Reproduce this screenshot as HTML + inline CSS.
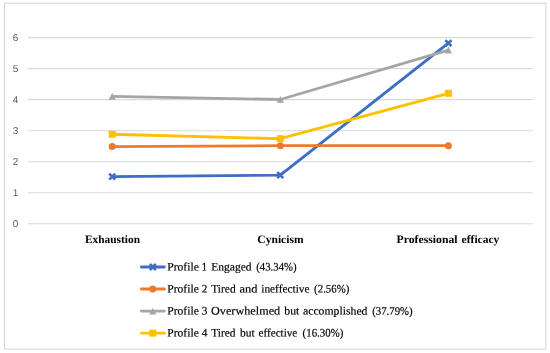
<!DOCTYPE html>
<html><head><meta charset="utf-8"><title>Chart</title>
<style>
html,body{margin:0;padding:0;background:#fff;}
svg{display:block;}
.ax{font-family:"Liberation Sans","DejaVu Sans",sans-serif;font-size:10px;fill:#595959;}
.cat{font-family:"Liberation Serif","DejaVu Serif",serif;font-weight:bold;font-size:11.3px;fill:#000;}
.leg{font-family:"Liberation Serif","DejaVu Serif",serif;font-size:11.5px;fill:#000;stroke:#000;stroke-width:0.18px;}
</style></head><body>
<svg width="550" height="353" viewBox="0 0 550 353">
<rect x="0" y="0" width="550" height="353" fill="#fff"/>
<rect x="4.55" y="3.15" width="541.25" height="346" fill="#fff" stroke="#D6D6D6" stroke-width="1.05"/>

<line x1="28" x2="532.8" y1="223.75" y2="223.75" stroke="#D9D9D9" stroke-width="1.1"/>
<text class="ax" transform="translate(15.45,227.05) rotate(0.05)" text-anchor="middle">0</text>
<line x1="28" x2="532.8" y1="192.73" y2="192.73" stroke="#D9D9D9" stroke-width="1.1"/>
<text class="ax" transform="translate(15.45,196.03) rotate(0.05)" text-anchor="middle">1</text>
<line x1="28" x2="532.8" y1="161.71" y2="161.71" stroke="#D9D9D9" stroke-width="1.1"/>
<text class="ax" transform="translate(15.45,165.01) rotate(0.05)" text-anchor="middle">2</text>
<line x1="28" x2="532.8" y1="130.69" y2="130.69" stroke="#D9D9D9" stroke-width="1.1"/>
<text class="ax" transform="translate(15.45,133.99) rotate(0.05)" text-anchor="middle">3</text>
<line x1="28" x2="532.8" y1="99.67" y2="99.67" stroke="#D9D9D9" stroke-width="1.1"/>
<text class="ax" transform="translate(15.45,102.97) rotate(0.05)" text-anchor="middle">4</text>
<line x1="28" x2="532.8" y1="68.65" y2="68.65" stroke="#D9D9D9" stroke-width="1.1"/>
<text class="ax" transform="translate(15.45,71.95) rotate(0.05)" text-anchor="middle">5</text>
<line x1="28" x2="532.8" y1="37.63" y2="37.63" stroke="#D9D9D9" stroke-width="1.1"/>
<text class="ax" transform="translate(15.45,40.93) rotate(0.05)" text-anchor="middle">6</text>
<polyline points="112.20,176.69 280.30,175.20 448.40,43.08" fill="none" stroke="#3D6DC6" stroke-width="2.85" stroke-linejoin="round" stroke-linecap="round"/>
<path d="M109.20 173.69L115.20 179.69M115.20 173.69L109.20 179.69" stroke="#3D6DC6" stroke-width="2.6" fill="none" stroke-linecap="butt"/>
<path d="M277.30 172.20L283.30 178.20M283.30 172.20L277.30 178.20" stroke="#3D6DC6" stroke-width="2.6" fill="none" stroke-linecap="butt"/>
<path d="M445.40 40.08L451.40 46.08M451.40 40.08L445.40 46.08" stroke="#3D6DC6" stroke-width="2.6" fill="none" stroke-linecap="butt"/>
<polyline points="112.20,146.62 280.30,145.69 448.40,145.69" fill="none" stroke="#ED7A2C" stroke-width="2.85" stroke-linejoin="round" stroke-linecap="round"/>
<circle cx="112.20" cy="146.62" r="3.5" fill="#ED7A2C"/>
<circle cx="280.30" cy="145.69" r="3.5" fill="#ED7A2C"/>
<circle cx="448.40" cy="145.69" r="3.5" fill="#ED7A2C"/>
<polyline points="112.20,96.40 280.30,99.50 448.40,50.21" fill="none" stroke="#A5A5A5" stroke-width="2.85" stroke-linejoin="round" stroke-linecap="round"/>
<polygon points="112.20,93.00 115.80,99.70 108.60,99.70" fill="#A5A5A5"/>
<polygon points="280.30,96.10 283.90,102.80 276.70,102.80" fill="#A5A5A5"/>
<polygon points="448.40,46.81 452.00,53.51 444.80,53.51" fill="#A5A5A5"/>
<polyline points="112.20,134.22 280.30,138.72 448.40,93.30" fill="none" stroke="#FFC000" stroke-width="2.85" stroke-linejoin="round" stroke-linecap="round"/>
<rect x="108.70" y="130.72" width="7" height="7" fill="#FFC000"/>
<rect x="276.80" y="135.22" width="7" height="7" fill="#FFC000"/>
<rect x="444.90" y="89.80" width="7" height="7" fill="#FFC000"/>
<text class="cat" transform="translate(84.9,243.00) rotate(0.04)"><tspan x="0.0" textLength="55.1" lengthAdjust="spacingAndGlyphs">Exhaustion</tspan></text>
<text class="cat" transform="translate(257.3,243.00) rotate(0.04)"><tspan x="0.0" textLength="46.3" lengthAdjust="spacingAndGlyphs">Cynicism</tspan></text>
<text class="cat" transform="translate(396.5,243.00) rotate(0.04)"><tspan x="0.0" textLength="61.1" lengthAdjust="spacingAndGlyphs">Professional</tspan> <tspan x="65.1" textLength="37.8" lengthAdjust="spacingAndGlyphs">efficacy</tspan></text>
<line x1="141.4" x2="164.4" y1="267.0" y2="267.0" stroke="#3D6DC6" stroke-width="2.8" stroke-linecap="round"/>
<path d="M149.80 264.00L155.80 270.00M155.80 264.00L149.80 270.00" stroke="#3D6DC6" stroke-width="2.6" fill="none" stroke-linecap="butt"/>
<text class="leg" transform="translate(167.2,270.40) rotate(0.04)"><tspan x="0.0" textLength="31.6" lengthAdjust="spacingAndGlyphs">Profile</tspan> <tspan x="34.4" textLength="5.7" lengthAdjust="spacingAndGlyphs">1</tspan> <tspan x="44.1" textLength="40.3" lengthAdjust="spacingAndGlyphs">Engaged</tspan> <tspan x="89.0" textLength="40.4" lengthAdjust="spacingAndGlyphs">(43.34%)</tspan></text>
<line x1="141.4" x2="164.4" y1="289.0" y2="289.0" stroke="#ED7A2C" stroke-width="2.8" stroke-linecap="round"/>
<circle cx="152.80" cy="289.00" r="3.5" fill="#ED7A2C"/>
<text class="leg" transform="translate(167.2,292.40) rotate(0.04)"><tspan x="0.0" textLength="31.6" lengthAdjust="spacingAndGlyphs">Profile</tspan> <tspan x="34.5" textLength="5.7" lengthAdjust="spacingAndGlyphs">2</tspan> <tspan x="44.1" textLength="24.3" lengthAdjust="spacingAndGlyphs">Tired</tspan> <tspan x="72.3" textLength="17.9" lengthAdjust="spacingAndGlyphs">and</tspan> <tspan x="94.1" textLength="48.2" lengthAdjust="spacingAndGlyphs">ineffective</tspan> <tspan x="146.9" textLength="35.3" lengthAdjust="spacingAndGlyphs">(2.56%)</tspan></text>
<line x1="141.4" x2="164.4" y1="311.1" y2="311.1" stroke="#A5A5A5" stroke-width="2.8" stroke-linecap="round"/>
<polygon points="152.80,307.70 156.40,314.40 149.20,314.40" fill="#A5A5A5"/>
<text class="leg" transform="translate(167.2,314.50) rotate(0.04)"><tspan x="0.0" textLength="31.6" lengthAdjust="spacingAndGlyphs">Profile</tspan> <tspan x="34.5" textLength="5.7" lengthAdjust="spacingAndGlyphs">3</tspan> <tspan x="43.8" textLength="69.2" lengthAdjust="spacingAndGlyphs">Overwhelmed</tspan> <tspan x="117.1" textLength="15.1" lengthAdjust="spacingAndGlyphs">but</tspan> <tspan x="135.8" textLength="64.5" lengthAdjust="spacingAndGlyphs">accomplished</tspan> <tspan x="205.0" textLength="40.5" lengthAdjust="spacingAndGlyphs">(37.79%)</tspan></text>
<line x1="141.4" x2="164.4" y1="333.1" y2="333.1" stroke="#FFC000" stroke-width="2.8" stroke-linecap="round"/>
<rect x="149.30" y="329.60" width="7" height="7" fill="#FFC000"/>
<text class="leg" transform="translate(167.2,336.50) rotate(0.04)"><tspan x="0.0" textLength="31.6" lengthAdjust="spacingAndGlyphs">Profile</tspan> <tspan x="34.5" textLength="5.7" lengthAdjust="spacingAndGlyphs">4</tspan> <tspan x="44.1" textLength="24.2" lengthAdjust="spacingAndGlyphs">Tired</tspan> <tspan x="72.8" textLength="14.7" lengthAdjust="spacingAndGlyphs">but</tspan> <tspan x="91.4" textLength="38.6" lengthAdjust="spacingAndGlyphs">effective</tspan> <tspan x="135.4" textLength="40.7" lengthAdjust="spacingAndGlyphs">(16.30%)</tspan></text>
</svg>
</body></html>
